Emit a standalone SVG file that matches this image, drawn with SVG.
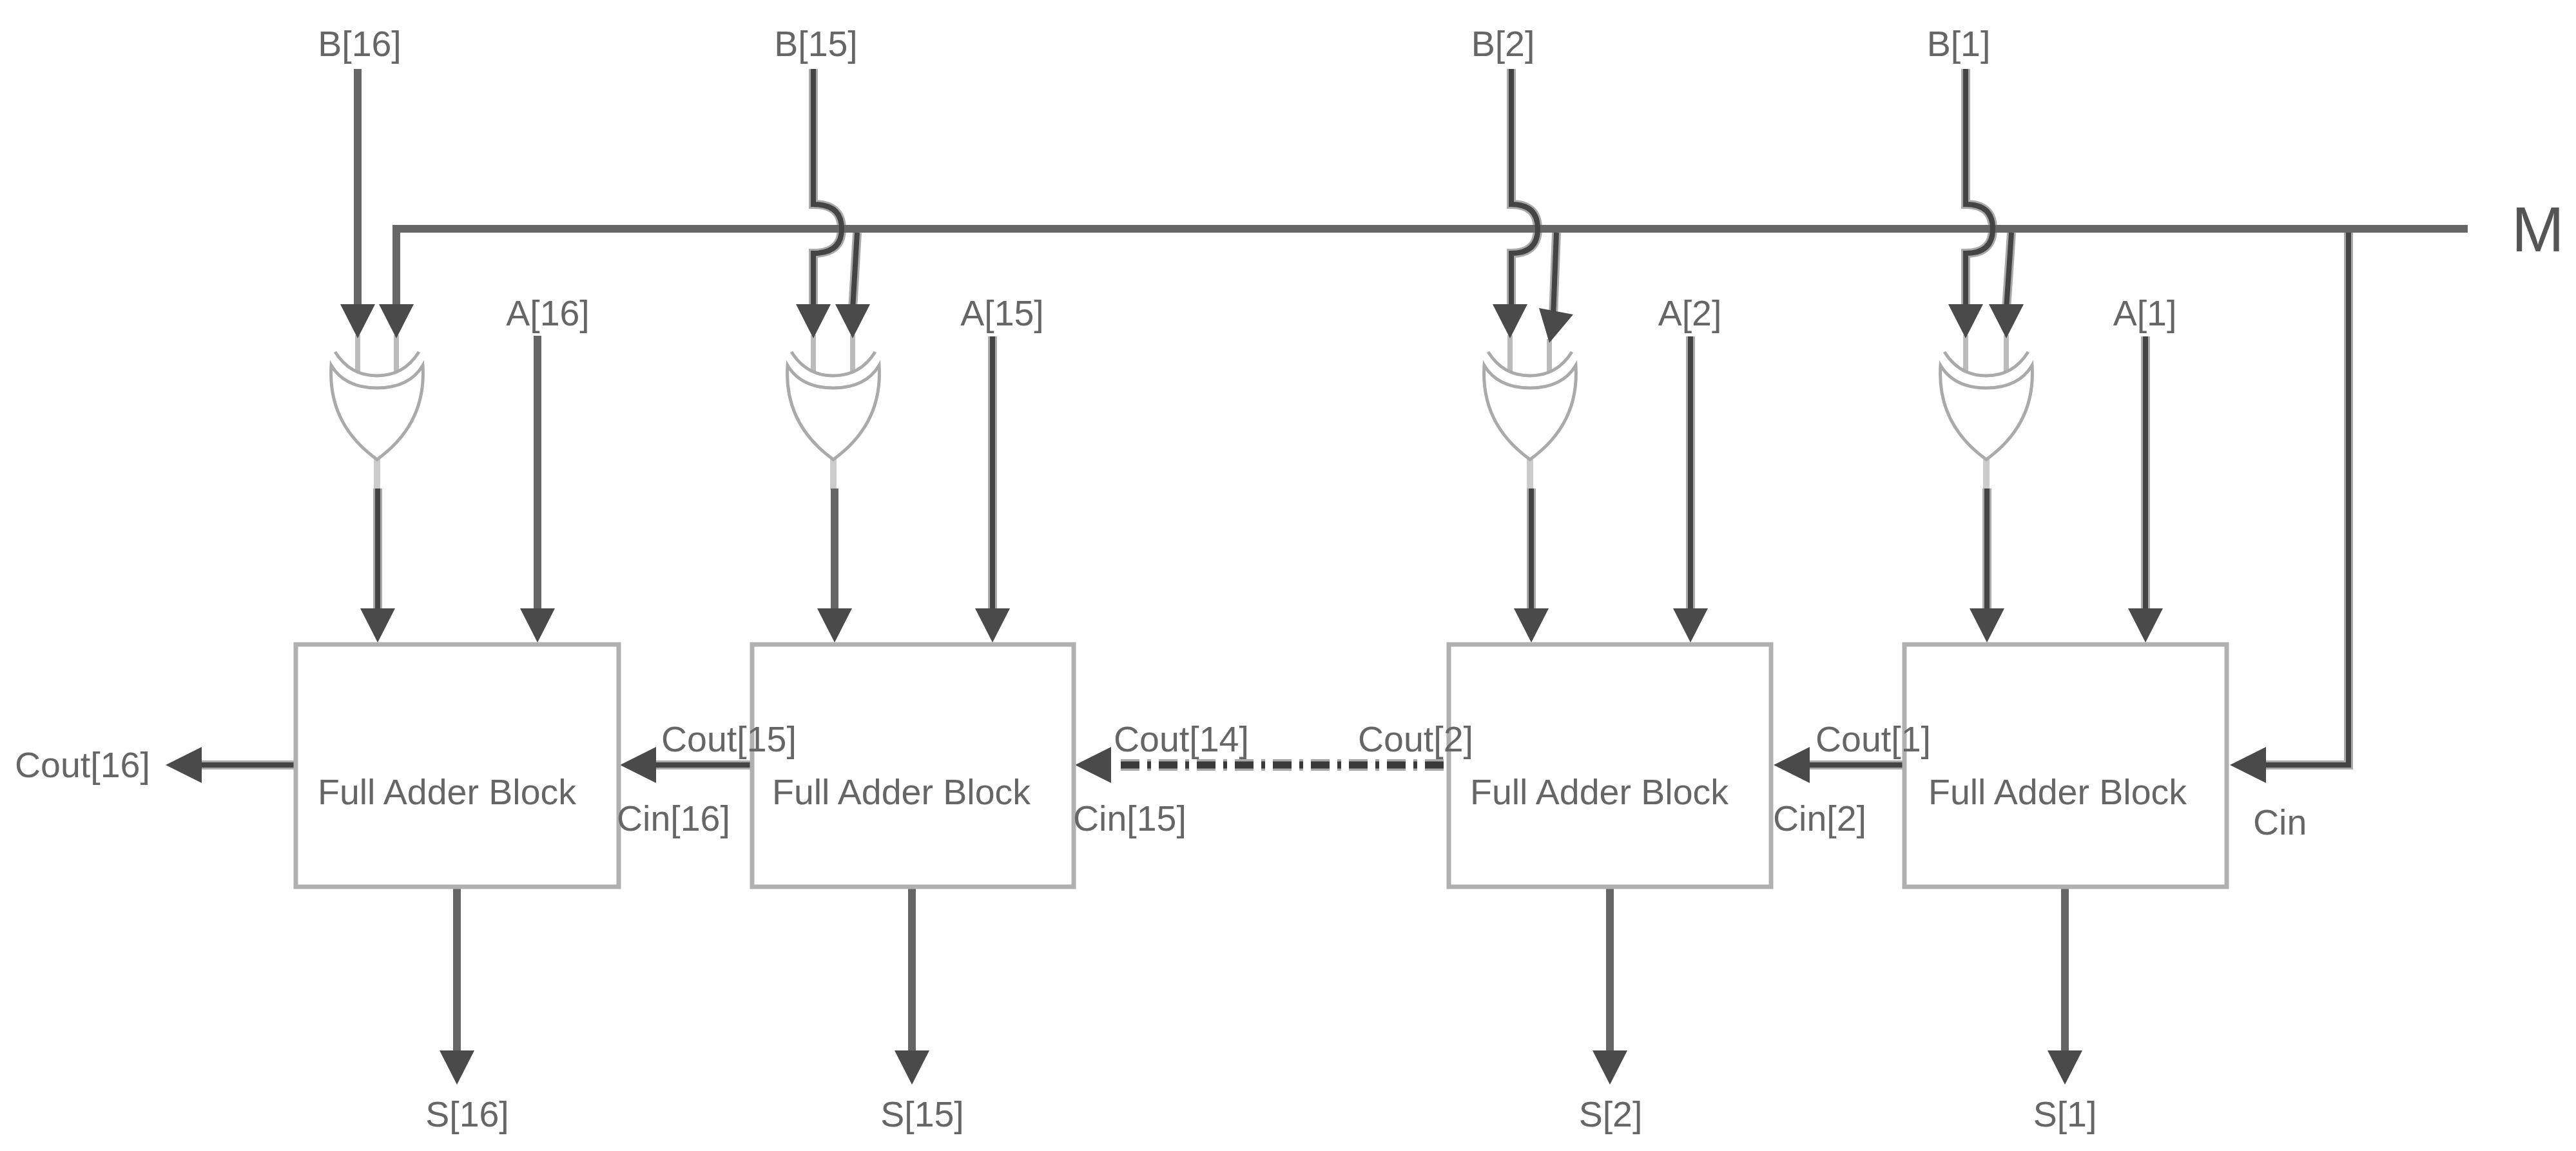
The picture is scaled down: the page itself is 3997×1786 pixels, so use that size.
<svg xmlns="http://www.w3.org/2000/svg" width="3997" height="1786" viewBox="0 0 3997 1786">
<style>
text{font-family:"Liberation Sans",Arial,sans-serif;font-size:55.5px;fill:#666}
.m{text-anchor:middle}
.w{fill:none;stroke:#666;stroke-width:12}
.halo{fill:none;stroke:#aaa;stroke-width:14}
.core{fill:none;stroke:#444;stroke-width:8}
.s{fill:none;stroke:#bbb;stroke-width:8}
.o{fill:none;stroke:#ccc;stroke-width:10}
.g{fill:none;stroke:#aaa;stroke-width:5}
.b{fill:#fff;stroke:#b0b0b0;stroke-width:7}
.h{fill:#4a4a4a}
</style>
<defs>
<polygon id="ad" points="-27,-53 27,-53 0,0"/>
<polygon id="al" points="0,0 56,-28 56,28"/>
<g id="xor">
<path d="M-65,-167 Q-42,-130 0,-130 Q42,-130 65,-167"/>
<path d="M-71,-146 Q-50,-111 0,-111 Q50,-111 71,-146 C75,-85 50,-36 0,0 C-50,-36 -75,-85 -71,-146 Z"/>
</g>
<path id="thin" d="M1262 107V317Q1306 317 1306 355Q1306 393 1262 393V480M2345 107V317Q2386 317 2386 355Q2386 393 2345 393V480M3050 107V317Q3092 317 3092 355Q3092 393 3050 393V480M1330 361L1323 480M2415 361L2410 490M3121 361L3113 480M1540 522V950M2623 522V950M3329 522V950M586 758V950M2376 758V950M3083 758V950M3644 361V1187H3510M1165 1187H1010M458 1187H300M2954 1187H2800"/>
<path id="dd" d="M1739 1187H2248" stroke-dasharray="29 12 6 12"/>
</defs>
<g id="connectors">
<path class="s" d="M555 520V578M615 520V578M1262 520V578M1323 520V578M2343 520V578M2404 526V578M3050 520V578M3113 520V578"/>
<path class="o" d="M585 711V760M1293 711V760M2374 711V760M3082 711V760"/>
<use href="#thin" class="halo"/>
<use href="#dd" class="halo" style="stroke-width:18"/>
<path class="w" d="M555 107V480M615 480V355H3829M834 521V950M1295 758V950M709 1375V1635M1415 1375V1635M2498 1375V1635M3204 1375V1635"/>
<use href="#thin" class="core"/>
<use href="#dd" class="core" style="stroke-width:11;stroke:#3a3a3a"/>
<g class="h">
<use href="#ad" x="555" y="525"/><use href="#ad" x="615" y="525"/>
<use href="#ad" x="1262" y="525"/><use href="#ad" x="1323" y="525"/>
<use href="#ad" x="2343" y="525"/><polygon points="2388,478 2441,488 2404,532"/>
<use href="#ad" x="3050" y="525"/><use href="#ad" x="3113" y="525"/>
<use href="#ad" x="586" y="997"/><use href="#ad" x="834" y="997"/>
<use href="#ad" x="1295" y="997"/><use href="#ad" x="1540" y="997"/>
<use href="#ad" x="2376" y="997"/><use href="#ad" x="2623" y="997"/>
<use href="#ad" x="3083" y="997"/><use href="#ad" x="3329" y="997"/>
<use href="#ad" x="709" y="1683"/><use href="#ad" x="1415" y="1683"/>
<use href="#ad" x="2498" y="1683"/><use href="#ad" x="3204" y="1683"/>
<use href="#al" x="257" y="1187"/><use href="#al" x="962" y="1187"/>
<use href="#al" x="1668" y="1187"/><use href="#al" x="2752" y="1187"/>
<use href="#al" x="3460" y="1187"/>
</g>
</g>
<g id="xor16" class="g"><use href="#xor" x="585" y="713"/></g>
<g id="xor15" class="g"><use href="#xor" x="1293" y="713"/></g>
<g id="xor2" class="g"><use href="#xor" x="2374" y="713"/></g>
<g id="xor1" class="g"><use href="#xor" x="3082" y="713"/></g>
<g id="block16"><rect class="b" x="459" y="1000" width="501" height="376"/><text x="493" y="1248">Full Adder Block</text></g>
<g id="block15"><rect class="b" x="1167" y="1000" width="499" height="376"/><text x="1198" y="1248">Full Adder Block</text></g>
<g id="block2"><rect class="b" x="2248" y="1000" width="500" height="376"/><text x="2281" y="1248">Full Adder Block</text></g>
<g id="block1"><rect class="b" x="2955" y="1000" width="500" height="376"/><text x="2992" y="1248">Full Adder Block</text></g>
<g id="labels">
<text class="m" x="558" y="87">B[16]</text><text class="m" x="1266" y="87">B[15]</text><text class="m" x="2332" y="87">B[2]</text><text class="m" x="3039" y="87">B[1]</text>
<text class="m" x="850" y="505">A[16]</text><text class="m" x="1555" y="505">A[15]</text><text class="m" x="2622" y="505">A[2]</text><text class="m" x="3328" y="505">A[1]</text>
<text class="m" x="725" y="1748">S[16]</text><text class="m" x="1431" y="1748">S[15]</text><text class="m" x="2499" y="1748">S[2]</text><text class="m" x="3204" y="1748">S[1]</text>
<text x="23" y="1206">Cout[16]</text><text x="1026" y="1166">Cout[15]</text><text x="1728" y="1166">Cout[14]</text><text x="2107" y="1166">Cout[2]</text><text x="2817" y="1166">Cout[1]</text>
<text x="957" y="1289">Cin[16]</text><text x="1665" y="1289">Cin[15]</text><text x="2751" y="1289">Cin[2]</text><text x="3496" y="1295">Cin</text>
<text x="3897" y="390" style="font-size:98px;fill:#555">M</text>
</g>
</svg>
